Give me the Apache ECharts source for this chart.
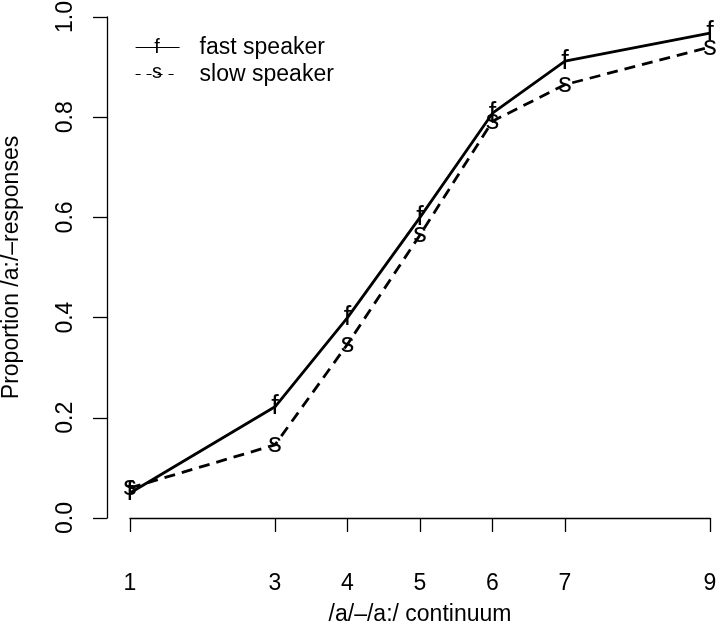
<!DOCTYPE html>
<html>
<head>
<meta charset="utf-8">
<script src="https://cdn.jsdelivr.net/npm/echarts@6/dist/echarts.min.js"></script>
<style>
  html, body { margin: 0; padding: 0; background: #fff; }
  #chart { width: 716px; height: 624px; }
</style>
</head>
<body>
<div id="chart"></div>
<script>
// continuum steps and proportions
const steps = [1, 3, 4, 5, 6, 7, 9]
const fastSpeaker = [0.05, 0.222, 0.40, 0.60, 0.808, 0.912, 0.968]
const slowSpeaker = [0.06, 0.146, 0.347, 0.565, 0.792, 0.865, 0.94]
const xTicks = [1, 3, 4, 5, 6, 7, 9]
const yTicks = [0, 0.2, 0.4, 0.6, 0.8, 1.0]

const font = 'Liberation Sans, Helvetica, Arial, sans-serif'

const pairs = (ys) => steps.map((x, i) => [x, ys[i]])

const pointLabel = (ch) => ({
  show: true,
  position: 'inside',
  formatter: ch,
  color: '#000',
  fontSize: 27,
  fontFamily: font
})

const myChart = echarts.init(document.getElementById('chart'))
myChart.setOption({
  animation: false,
  grid: { left: 130, top: 17, width: 580, height: 501, outerBoundsMode: 'none' },
  legend: {
    orient: 'vertical',
    left: 130,
    top: 31,
    itemWidth: 44,
    itemHeight: 20,
    itemGap: 4,
    itemStyle: { opacity: 0 },
    textStyle: { fontSize: 23, fontFamily: font, color: '#000', padding: [0, 0, 0, 15] },
    data: [
      { name: 'fast speaker', lineStyle: { width: 1.2 } },
      { name: 'slow speaker', lineStyle: { width: 1.2, type: [5, 6] } }
    ]
  },
  // letters drawn over the legend samples, as in the plot
  graphic: [
    { type: 'text', x: 157, y: 47, style: { text: 'f', align: 'center', verticalAlign: 'middle', fontSize: 20, fontFamily: font, fill: '#000' } },
    { type: 'text', x: 157, y: 72, style: { text: 's', align: 'center', verticalAlign: 'middle', fontSize: 20, fontFamily: font, fill: '#000' } }
  ],
  xAxis: {
    type: 'value',
    min: 1,
    max: 9,
    offset: 21,
    name: '/a/–/a:/ continuum',
    nameLocation: 'middle',
    nameGap: 64,
    nameTextStyle: { fontSize: 23, fontFamily: font, color: '#000' },
    axisLine: { lineStyle: { color: '#000', width: 1.3 } },
    axisTick: { customValues: xTicks, length: 14, lineStyle: { color: '#000', width: 1.3 } },
    axisLabel: { customValues: xTicks, margin: 33, fontSize: 23, fontFamily: font, color: '#000' },
    splitLine: { show: false }
  },
  yAxis: {
    type: 'value',
    min: 0,
    max: 1,
    offset: 23,
    name: 'Proportion /a:/–responses',
    nameLocation: 'middle',
    nameGap: 84,
    nameTextStyle: { fontSize: 23, fontFamily: font, color: '#000' },
    axisLine: { show: true, lineStyle: { color: '#000', width: 1.3 } },
    axisTick: { show: true, customValues: yTicks, length: 14, lineStyle: { color: '#000', width: 1.3 } },
    axisLabel: {
      customValues: yTicks,
      rotate: 90,
      margin: 30,
      fontSize: 23,
      fontFamily: font,
      color: '#000',
      formatter: (v) => v.toFixed(1)
    },
    splitLine: { show: false }
  },
  series: [
    {
      name: 'fast speaker',
      type: 'line',
      data: pairs(fastSpeaker),
      symbol: 'circle',
      symbolSize: 0.1,
      itemStyle: { color: '#000' },
      lineStyle: { color: '#000', width: 2.8 },
      label: pointLabel('f')
    },
    {
      name: 'slow speaker',
      type: 'line',
      data: pairs(slowSpeaker),
      symbol: 'circle',
      symbolSize: 0.1,
      itemStyle: { color: '#000' },
      lineStyle: { color: '#000', width: 2.8, type: [11, 7] },
      label: pointLabel('s')
    }
  ]
})
</script>
</body>
</html>
